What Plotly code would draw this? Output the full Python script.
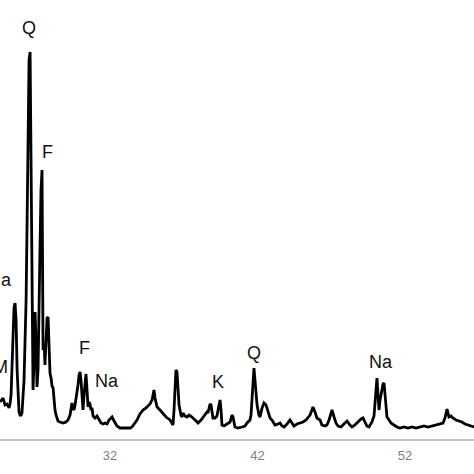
import plotly.graph_objects as go

two_theta = [24.54, 24.68, 24.75, 24.88, 25.02, 25.15, 25.22, 25.29, 25.36, 25.42, 25.49, 25.56, 25.63, 25.70,
             25.76, 25.83, 25.90, 25.97, 26.03, 26.10, 26.17, 26.24, 26.31, 26.37, 26.44, 26.51, 26.58, 26.64,
             26.71, 26.78, 26.85, 26.92, 26.98, 27.05, 27.12, 27.19, 27.25, 27.32, 27.39, 27.46, 27.53, 27.59,
             27.66, 27.73, 27.80, 27.86, 27.93, 28.00, 28.07, 28.14, 28.20, 28.27, 28.34, 28.41, 28.47, 28.61,
             28.81, 29.02, 29.15, 29.29, 29.36, 29.42, 29.49, 29.56, 29.63, 29.69, 29.76, 29.83, 29.90, 29.97,
             30.03, 30.10, 30.17, 30.24, 30.31, 30.37, 30.44, 30.51, 30.58, 30.64, 30.71, 30.78, 30.85, 30.98,
             31.12, 31.25, 31.39, 31.53, 31.66, 31.80, 31.93, 32.07, 32.14, 32.20, 32.34, 32.47, 32.68, 32.88,
             33.15, 33.36, 33.49, 33.63, 33.83, 34.03, 34.24, 34.44, 34.58, 34.71, 34.85, 34.92, 34.98, 35.05,
             35.19, 35.39, 35.59, 35.80, 36.07, 36.20, 36.27, 36.34, 36.41, 36.47, 36.54, 36.61, 36.68, 36.81,
             36.88, 36.95, 37.08, 37.22, 37.36, 37.56, 37.76, 37.97, 38.17, 38.31, 38.44, 38.58, 38.64, 38.71,
             38.78, 38.85, 38.92, 38.98, 39.12, 39.25, 39.39, 39.46, 39.53, 39.59, 39.73, 39.93, 40.14, 40.27,
             40.34, 40.47, 40.68, 40.95, 41.15, 41.29, 41.49, 41.56, 41.63, 41.69, 41.76, 41.83, 41.90, 41.97,
             42.10, 42.17, 42.31, 42.44, 42.58, 42.71, 42.85, 42.98, 43.19, 43.39, 43.53, 43.66, 43.80, 44.00,
             44.20, 44.34, 44.47, 44.68, 44.88, 45.09, 45.29, 45.42, 45.56, 45.69, 45.76, 45.90, 46.03, 46.24,
             46.37, 46.58, 46.71, 46.85, 46.98, 47.05, 47.19, 47.32, 47.46, 47.66, 47.86, 48.07, 48.27, 48.41,
             48.61, 48.81, 49.02, 49.15, 49.29, 49.42, 49.56, 49.76, 49.90, 49.97, 50.03, 50.10, 50.17, 50.24,
             50.31, 50.37, 50.44, 50.51, 50.58, 50.64, 50.71, 50.78, 50.92, 51.05, 51.25, 51.46, 51.66, 51.93,
             52.20, 52.47, 52.75, 53.02, 53.29, 53.56, 53.83, 54.10, 54.37, 54.58, 54.71, 54.78, 54.85, 54.92,
             54.98, 55.12, 55.25, 55.46, 55.66, 55.86, 56.07, 56.27, 56.47, 56.68]

intensity = [370, 390, 410, 340, 350, 310, 350, 440, 790, 1190, 1310, 1360, 1190, 690,
             390, 270, 240, 240, 260, 390, 590, 990, 1390, 2090, 3190, 3790, 3870, 2890,
             1090, 490, 790, 1270, 990, 520, 690, 1190, 1890, 2490, 2690, 890, 960, 740,
             1090, 1210, 1220, 940, 660, 610, 530, 510, 390, 290, 240, 210, 180, 170,
             160, 170, 190, 240, 330, 360, 310, 290, 340, 390, 440, 540, 640, 670,
             590, 390, 290, 440, 590, 650, 490, 320, 370, 350, 290, 310, 230, 210,
             230, 190, 160, 150, 160, 150, 190, 210, 220, 200, 160, 130, 110, 110,
             110, 110, 120, 150, 190, 250, 290, 310, 330, 350, 390, 440, 490, 410,
             320, 290, 250, 220, 190, 150, 140, 290, 490, 690, 670, 420, 340, 240,
             220, 260, 230, 220, 240, 220, 190, 160, 190, 220, 240, 270, 260, 310,
             350, 340, 270, 210, 210, 230, 340, 390, 290, 140, 130, 150, 170, 240,
             220, 120, 110, 120, 130, 160, 190, 240, 440, 640, 710, 590, 440, 340,
             240, 220, 310, 360, 340, 270, 210, 190, 140, 150, 160, 130, 120, 150,
             190, 160, 130, 150, 160, 170, 190, 210, 240, 290, 320, 270, 210, 190,
             140, 130, 140, 190, 270, 290, 220, 160, 130, 120, 150, 180, 140, 120,
             140, 170, 200, 210, 170, 130, 120, 170, 230, 390, 540, 610, 440, 290,
             390, 440, 510, 550, 560, 460, 310, 220, 190, 160, 140, 120, 110, 120,
             110, 120, 110, 120, 130, 120, 130, 140, 150, 160, 210, 270, 300, 260,
             220, 230, 210, 190, 180, 170, 150, 140, 130, 120]

label_text = ["Q", "F", "Na", "M", "F", "Na", "K", "Q", "Na"]
label_x = [26.50, 27.73, 24.57, 24.545, 30.24, 31.80, 39.32, 41.76, 50.37]
label_y = [4110, 2870, 1590, 720, 910, 580, 570, 860, 770]

tick_vals = [32, 42, 52]
tick_text = ["32", "42", "52"]

fig = go.Figure()
fig.add_trace(go.Scatter(
    x=two_theta, y=intensity, mode="lines",
    line=dict(color="#000000", width=2.8),
    showlegend=False, hoverinfo="skip",
))

for t, x, y in zip(label_text, label_x, label_y):
    fig.add_annotation(x=x, y=y, text=t, showarrow=False,
                       xanchor="center", yanchor="middle",
                       font=dict(family="Liberation Sans, Arial, sans-serif", size=18, color="#111111"))

fig.update_layout(
    width=474, height=474,
    margin=dict(l=0, r=0, t=0, b=35),
    paper_bgcolor="white", plot_bgcolor="white",
    xaxis=dict(range=[24.54, 56.68], showgrid=False, zeroline=False,
               showline=True, linecolor="#c4c4c4", linewidth=2,
               tickmode="array", tickvals=tick_vals, ticktext=tick_text,
               ticks="", ticklabelstandoff=3,
               tickfont=dict(family="Liberation Sans, Arial, sans-serif", size=13, color="#808080")),
    yaxis=dict(range=[0, 4390], visible=False, showgrid=False, zeroline=False),
)

fig.write_html("out.html", config={"displayModeBar": False, "staticPlot": True},
               post_script="document.body.style.margin='0px';document.body.style.overflow='hidden';")
